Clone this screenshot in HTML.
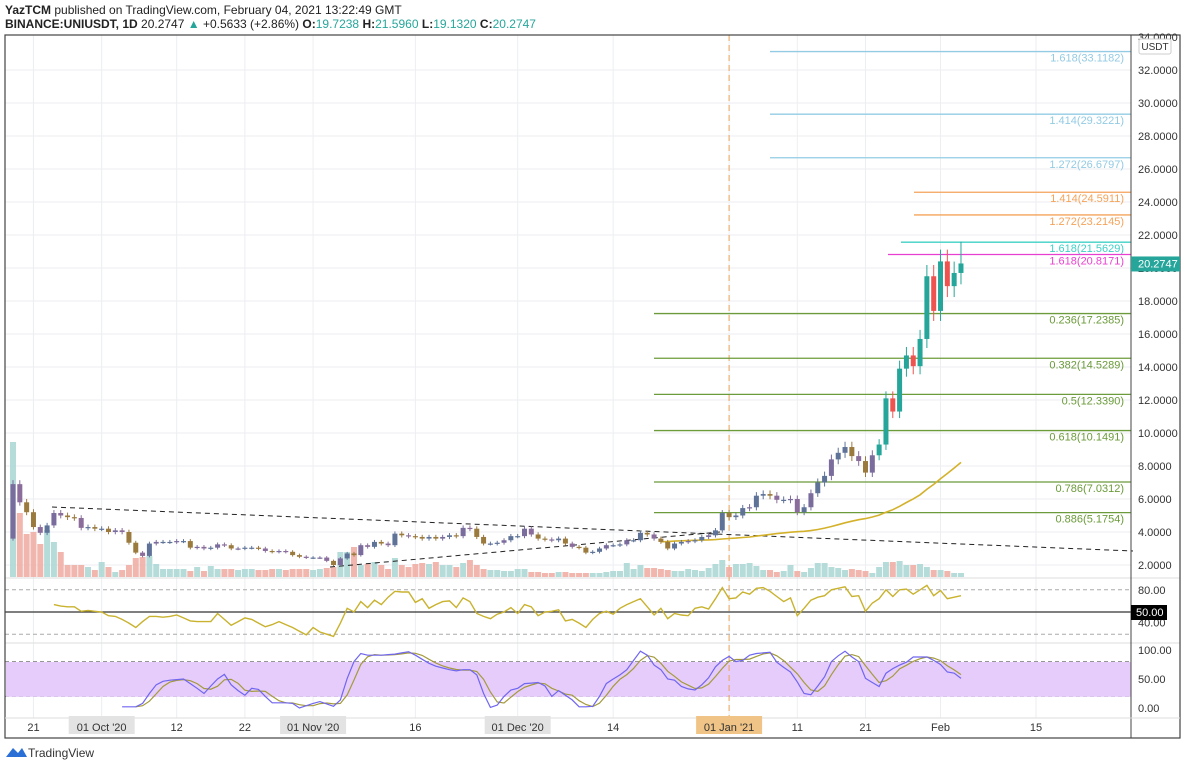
<!DOCTYPE html>
<html><head><meta charset="utf-8"><style>
body{margin:0;background:#fff;width:1185px;height:768px;overflow:hidden;font-family:"Liberation Sans",sans-serif}
svg{display:block}
text{font-family:"Liberation Sans",sans-serif}
</style></head><body>
<svg id="chart" width="1185" height="768" viewBox="0 0 1185 768" xmlns="http://www.w3.org/2000/svg">
<text x="5" y="14" font-size="12" fill="#222"><tspan font-weight="bold">YazTCM</tspan> published on TradingView.com, February 04, 2021 13:22:49 GMT</text>
<text x="5" y="28" font-size="12" fill="#222"><tspan font-weight="bold">BINANCE:UNIUSDT, 1D</tspan> 20.2747 <tspan fill="#26a69a">▲</tspan> +0.5633 (+2.86%) <tspan font-weight="bold">O:</tspan><tspan fill="#26a69a">19.7238</tspan> <tspan font-weight="bold">H:</tspan><tspan fill="#26a69a">21.5960</tspan> <tspan font-weight="bold">L:</tspan><tspan fill="#26a69a">19.1320</tspan> <tspan font-weight="bold">C:</tspan><tspan fill="#26a69a">20.2747</tspan></text>
<g id="grid"></g>
<rect x="5" y="643" width="1126" height="0" fill="none"/>
<rect x="6" y="662" width="1125" height="34.8" fill="#e6ccfb"/>
<g id="plot"></g>
<rect x="5" y="35" width="1175" height="703" fill="none" stroke="#444" stroke-width="1.2"/>
<line x1="1131" y1="35" x2="1131" y2="738" stroke="#444" stroke-width="1"/>
<line x1="5" y1="718" x2="1180" y2="718" stroke="#ddd" stroke-width="1"/>
<g id="axes"></g>
<g>
<path d="M6 757 L13 748 L18 753 L22 748 L27 757 Z" fill="#2a6fd6"/>
<text x="28" y="757" font-size="12" fill="#333">TradingView</text>
</g>
</svg>
<script>
const closes=[6.9,5.8,5.2,4.3,3.95,4.4,5.15,5.0,4.9,4.85,4.25,4.3,4.2,4.2,4.0,4.1,4.0,3.35,2.75,2.55,3.3,3.4,3.4,3.4,3.45,3.45,3.05,3.1,3.0,3.05,3.25,3.2,3.0,3.0,3.05,3.05,3.0,2.85,2.8,2.85,2.8,2.6,2.5,2.45,2.45,2.45,2.25,2.0,2.4,2.7,2.6,3.2,3.1,3.4,3.3,3.2,3.9,3.8,3.75,3.7,3.6,3.7,3.6,3.7,3.8,3.75,4.25,4.2,3.7,3.3,3.3,3.35,3.5,3.75,3.75,4.2,3.85,3.6,3.55,3.5,3.6,3.3,3.1,3.05,2.75,2.8,3.0,3.2,3.2,3.25,3.5,3.5,3.95,3.85,3.6,3.4,3.0,3.3,3.4,3.45,3.5,3.7,3.8,4.1,5.15,4.9,5.0,5.45,5.5,6.2,6.3,6.2,5.95,5.95,6.0,5.2,5.5,6.35,7.0,7.4,8.4,8.8,9.15,8.6,8.3,7.6,8.65,9.3,12.1,11.3,13.9,14.7,14.05,15.7,19.5,17.4,20.4,18.9,19.7,20.2747];
const firstOpen=3.6;
const lastHigh=21.596;
const volume=[135,64,43,45,33,47,35,25,12,12,12,10,7,15,10,5,7,12,19,20,21,13,8,8,8,8,6,10,6,11,8,8,8,7,8,8,7,7,8,8,7,8,8,8,7,8,9,10,25,25,30,12,13,15,12,8,19,12,10,13,14,13,15,12,12,10,14,17,12,8,7,7,6,6,8,8,5,5,4,4,5,5,4,4,4,4,4,5,6,6,14,8,12,9,9,8,7,6,6,8,7,6,9,13,17,10,13,13,14,11,7,7,5,6,12,6,5,9,14,14,10,9,7,8,7,6,4,10,15,15,16,12,12,13,10,7,7,6,4,4];
const rsi=[null,null,null,null,null,null,60,58,57,57,51,52,51,50,45,44,40,35,29,37,44,44,43,44,46,42,38,37,37,37,48,40,32,37,42,40,35,30,33,37,33,29,24,19,29,23,20,17,35,55,50,64,56,66,60,70,78,77,77,63,68,55,60,64,65,56,69,64,48,44,41,47,50,56,48,60,57,45,50,51,53,38,40,35,29,40,48,51,47,55,60,64,68,57,46,55,41,48,46,45,55,57,54,68,83,68,69,77,74,82,83,78,71,64,69,45,55,66,70,72,80,82,84,71,72,51,62,68,80,71,80,81,74,80,86,72,79,68,70,72];
const stochK=[null,null,null,null,null,null,null,null,null,null,null,null,null,null,null,null,2,2,2,8,25,40,46,48,49,50,42,34,25,38,50,58,40,30,22,34,32,20,9,9,9,8,0,4,8,11,7,3,14,51,80,94,91,91,91,92,93,95,97,91,84,77,72,69,66,64,66,66,57,25,1,5,20,31,34,42,43,44,38,20,30,22,14,2,2,3,20,42,50,57,66,82,98,91,74,66,50,48,37,33,31,40,52,71,82,89,80,82,91,94,95,96,79,70,62,45,25,23,38,54,80,90,98,88,80,51,44,37,60,68,74,79,88,88,88,82,75,62,60,51];
const fibLevels=[33.1182,29.3221,26.6797,24.5911,23.2145,21.5629,20.8171,17.2385,14.5289,12.3390,10.1491,7.0312,5.1754];
const fibRatios=["1.618","1.414","1.272","1.414","1.272","1.618","1.618","0.236","0.382","0.5","0.618","0.786","0.886"];
const priceTicks=[2,4,6,8,10,12,14,16,18,20,22,24,26,28,30,32,34];
const timeLabels=["21","01 Oct '20","12","22","01 Nov '20","16","01 Dec '20","14","01 Jan '21","11","21","Feb","15"];
const timeIdx=[3,13,24,34,44,59,74,88,105,115,125,136,150];

const NS="http://www.w3.org/2000/svg";
const X0=13,DX=6.82;
function xs(i){return X0+i*DX;}
function py(v){return 598-v*16.5;}
function vy(v){return 577-v;}
function ry(v){return 612-(v-50)*0.74;}
function sy(v){return 708-v*0.58;}
function mk(tag,attrs,parent){const e=document.createElementNS(NS,tag);for(const k in attrs)e.setAttribute(k,attrs[k]);parent.appendChild(e);return e;}
const grid=document.getElementById('grid'),plot=document.getElementById('plot'),axes=document.getElementById('axes');

// grid
timeIdx.forEach((t,k)=>{const g=mk('line',{x1:xs(t),x2:xs(t),y1:35,y2:718,stroke:'#eceef2','stroke-width':1},grid);

});
priceTicks.forEach(v=>{if(py(v)<40)return;const g=mk('line',{x1:5,x2:1131,y1:py(v),y2:py(v),stroke:'#eceef2','stroke-width':1},grid);

});
// pane separators
[578,643].forEach(y=>{const l=mk('line',{x1:5,x2:1180,y1:y,y2:y,stroke:'#ddd','stroke-width':1},grid);

});
// RSI / stoch guide lines
[[ry(80),'#aaa','4,3'],[ry(20),'#aaa','4,3'],[sy(80),'#888','4,3'],[sy(20),'#888','4,3']].forEach(a=>{const l=mk('line',{x1:5,x2:1131,y1:a[0],y2:a[0],stroke:a[1],'stroke-dasharray':a[2],'stroke-width':1},grid);

});
const mid=mk('line',{x1:5,x2:1131,y1:ry(50),y2:ry(50),stroke:'#333','stroke-width':1.3},grid);



// jan 1 marker
const jm=mk('line',{x1:xs(105),x2:xs(105),y1:35,y2:718,stroke:'#eca257','stroke-dasharray':'6,4','stroke-width':1},plot);



// volume
closes.forEach((c,i)=>{const o=i?closes[i-1]:firstOpen;const up=c>=o;
const r=mk('rect',{x:xs(i)-3,y:vy(volume[i]),width:6,height:volume[i],fill:up?'#a9d6d3':'#eeaaa0',opacity:0.85},plot);

});

// fib lines
const fibColor=i=>i<3?'#93cbe4':i<5?'#f5a35a':i==5?'#3fd0c6':i==6?'#e93fd0':'#6b9b3a';
const fibStart=i=>i<3?770:i<5?914:i==5?901:i==6?888:654;
fibLevels.forEach((v,i)=>{const y=py(v);
const l=mk('line',{x1:fibStart(i),x2:1131,y1:y,y2:y,stroke:fibColor(i),'stroke-width':1.3},plot);


const t=mk('text',{x:1124,y:y+10,'font-size':11,'text-anchor':'end',fill:fibColor(i)},plot);
t.textContent=fibRatios[i]+'('+v.toFixed(4)+')';

});

// trendlines
[[52,507,1133,551],[330,567,720,532]].forEach(a=>{const l=mk('line',{x1:a[0],y1:a[1],x2:a[2],y2:a[3],stroke:'#222','stroke-dasharray':'5,4','stroke-width':1},plot);

});

// moving average
let ma='';for(let i=95;i<closes.length;i++){let s=0;for(let k=i-49;k<=i;k++)s+=(k>=0?closes[k]:firstOpen);ma+=(ma?'L':'M')+xs(i).toFixed(1)+' '+py(s/50).toFixed(1);}
const mp=mk('path',{d:ma,fill:'none',stroke:'#d4b12a','stroke-width':1.6},plot);



// candles
closes.forEach((c,i)=>{const o=i?closes[i-1]:firstOpen;const up=c>=o;
const col=i>=127?(up?'#26a69a':'#ef5350'):(up?(i%3==0?'#7a6c9c':'#5f7399'):(i%3==1?'#8a6d9a':'#9b7a3e'));
const hi=(i==closes.length-1)?lastHigh:Math.max(o,c)*1.035;const lo=Math.min(o,c)*0.965;
const w=mk('line',{x1:xs(i),x2:xs(i),y1:py(hi),y2:py(lo),stroke:col,'stroke-width':1},plot);


const top=py(Math.max(o,c)),h=Math.max(1.2,Math.abs(py(o)-py(c)));
const b=mk('rect',{x:xs(i)-2.5,y:top,width:5,height:h,fill:col},plot);

});

// RSI line
let rp='';rsi.forEach((v,i)=>{if(v==null)return;rp+=(rp?'L':'M')+xs(i).toFixed(1)+' '+ry(v).toFixed(1);});
const rl=mk('path',{d:rp,fill:'none',stroke:'#c9b22e','stroke-width':1.4},plot);



// stoch
let kp='',dp='';stochK.forEach((v,i)=>{if(v==null)return;kp+=(kp?'L':'M')+xs(i).toFixed(1)+' '+sy(v).toFixed(1);
if(i>=2&&stochK[i-2]!=null){const d=(stochK[i]+stochK[i-1]+stochK[i-2])/3;dp+=(dp?'L':'M')+xs(i).toFixed(1)+' '+sy(d).toFixed(1);}});
const dl=mk('path',{d:dp,fill:'none',stroke:'#a49a3c','stroke-width':1.2},plot);


const kl=mk('path',{d:kp,fill:'none',stroke:'#7066f0','stroke-width':1.2},plot);



// price axis
priceTicks.forEach(v=>{const t=mk('text',{x:1138,y:py(v)+4,'font-size':11,fill:'#333'},axes);t.textContent=v.toFixed(4);

});
const ub=mk('rect',{x:1139,y:39,width:32,height:15,fill:'#fff',stroke:'#ccc',rx:2},axes);


const ut=mk('text',{x:1155,y:50,'font-size':10,'text-anchor':'middle',fill:'#333'},axes);ut.textContent='USDT';


const last=closes[closes.length-1];
const pb=mk('rect',{x:1131,y:py(last)-7,width:49,height:15,fill:'#26a69a'},axes);


const pt=mk('text',{x:1138,y:py(last)+4,'font-size':11,fill:'#fff'},axes);pt.textContent=last.toFixed(4);


// indicator axes
[[ry(80),'80.00'],[ry(40)+3,'40.00'],[sy(100),'100.00'],[sy(50),'50.00'],[sy(0),'0.00']].forEach(a=>{const t=mk('text',{x:1138,y:a[0]+4,'font-size':11,fill:'#333'},axes);t.textContent=a[1];

});
const rb=mk('rect',{x:1131,y:ry(50)-7,width:36,height:15,fill:'#000'},axes);


const rt=mk('text',{x:1136,y:ry(50)+4,'font-size':11,fill:'#fff'},axes);rt.textContent='50.00';



// time axis
timeLabels.forEach((s,k)=>{const x=xs(timeIdx[k]);const boxed=s.length>4;
if(boxed){const w=s.length*5.6+10;const r=mk('rect',{x:x-w/2,y:716,width:w,height:18,fill:s.indexOf('Jan')>=0?'#f0c486':'#e3e3e3'},axes);

}
const t=mk('text',{x:x,y:731,'font-size':11,'text-anchor':'middle',fill:'#333'},axes);t.textContent=s;

});
</script>
</body></html>
